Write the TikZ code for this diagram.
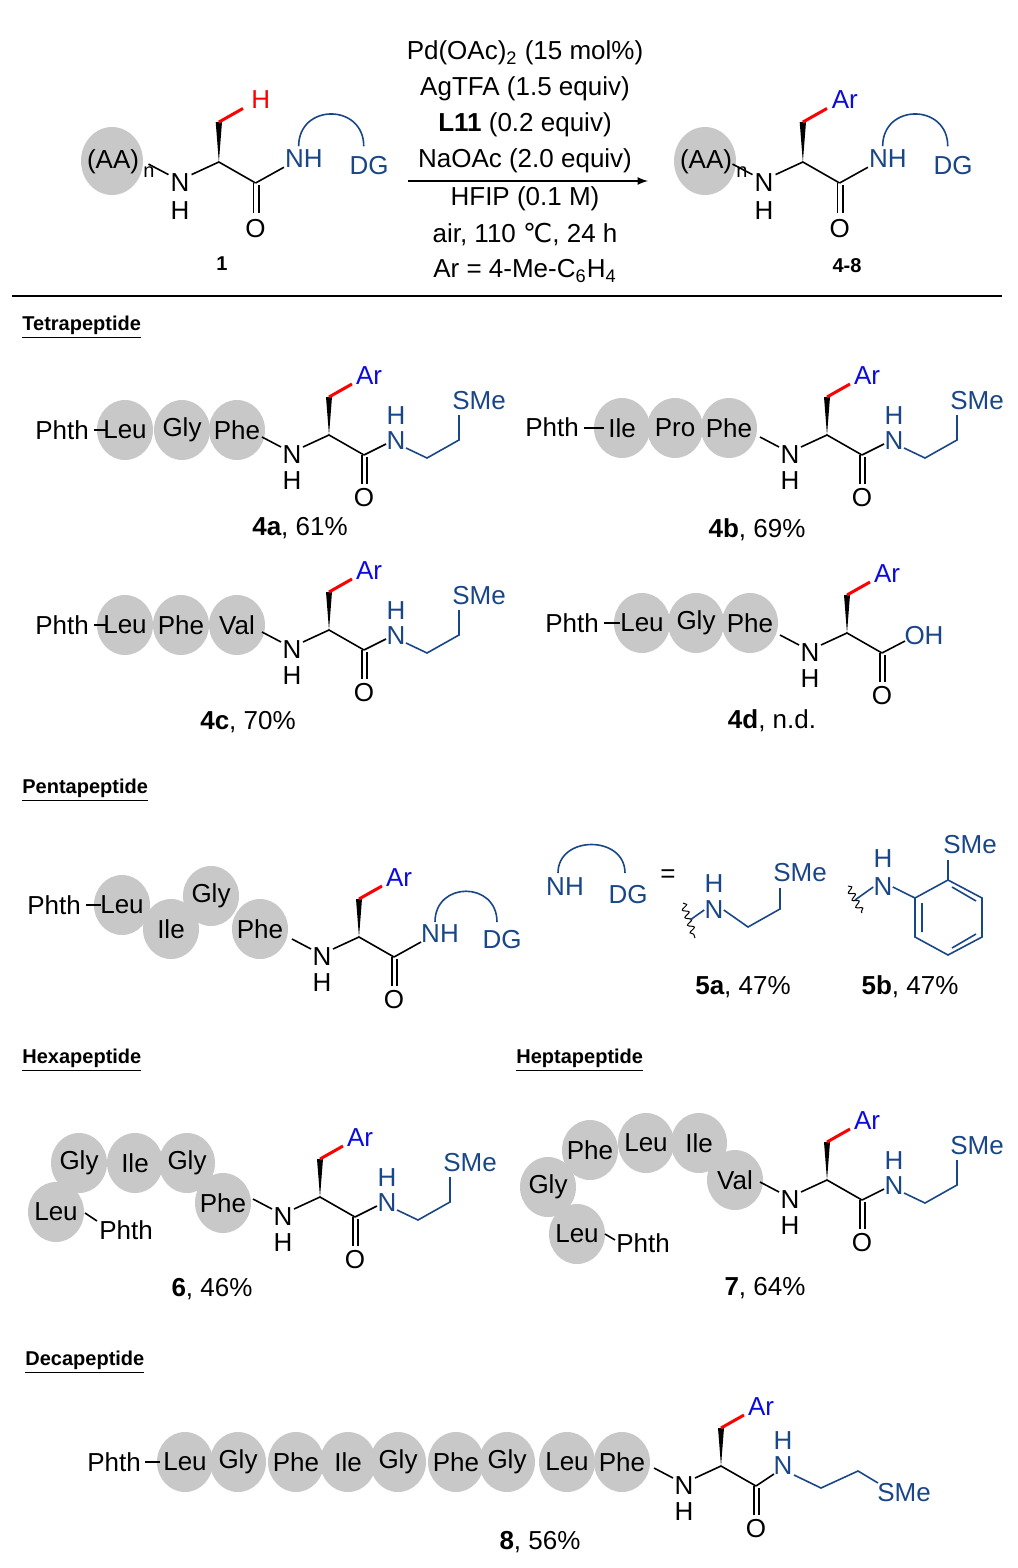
\documentclass[tikz,border=0pt]{standalone}
\usepackage{fontspec}
\setmainfont{Liberation Sans}
\newfontfamily\symfont{DejaVu Sans}
\usetikzlibrary{shapes.geometric,decorations.pathmorphing}
\definecolor{aagray}{RGB}{200,200,200}
\definecolor{dgblue}{RGB}{25,70,135}
\definecolor{arblue}{RGB}{10,10,225}
\tikzset{
  aa/.style={ellipse,fill=aagray,minimum width=28pt,minimum height=30pt,inner sep=0pt},
  atom/.style={inner sep=0pt},
  dg/.style={atom,text=dgblue},
  bond/.style={line width=0.8pt},
  dgbond/.style={line width=0.8pt,draw=dgblue},
  cpd/.style={inner sep=0pt},
  head/.style={anchor=west,inner sep=0pt,font=\bfseries}
}
% amino acid core: x, y of the N, scale, label on the side chain, tail
\newcommand\backbone[5]{%
  \begin{scope}[shift={(#1,#2)},scale=#3]
    \draw[bond] (-30,-18) -- (-11,-8);
    \node[atom] at (0,0) {N};
    \node[atom] at (0,26) {H};
    \draw[bond] (11,-8) -- (37,-20) -- (72,0);
    \fill (37,-20) -- (34,-58) -- (40,-58) -- cycle;
    \draw[red,line width=1.5pt] (37,-58) -- (60,-71);
    \node[atom] at (77,-79) {#4};
    \draw[bond] (70,0) -- (70,29) (75,2) -- (75,29);
    \node[atom] at (72,43) {O};
    #5
  \end{scope}}
\newcommand\amidetail{%
  \draw[bond] (72,0) -- (94,-11);
  \node[dg] at (104,-14) {N};
  \node[dg] at (104,-39) {H};
  \draw[dgbond] (114,-7) -- (135,3) -- (167,-15) -- (167,-40);
  \node[dg] at (187,-54) {SMe};}
\newcommand\dgtail{%
  \draw[bond] (72,0) -- (99,-15);
  \node[dg] at (118,-23) {NH};
  \node[dg] at (180,-17) {DG};
  \draw[dgbond] (113,-35) .. controls (113,-76) and (175,-76) .. (175,-35);}
\newcommand\ohtail{%
  \draw[bond] (72,0) -- (95,-12);
  \node[dg] at (114,-17) {OH};}
\newcommand\smedowntail{%
  \draw[bond] (72,0) -- (90,-12);
  \node[dg] at (99,-20) {N};
  \node[dg] at (99,-45) {H};
  \draw[dgbond] (110,-11) -- (137,2) -- (174,-15) -- (194,-3);
  \node[dg] at (220,7) {SMe};}
\begin{document}
\begin{tikzpicture}[x=0.5pt,y=-0.5pt,font=\fontsize{13}{15}\selectfont]
  \useasboundingbox (0,0) rectangle (1017,1568);
  % scheme
  \node[ellipse,fill=aagray,minimum width=31pt,minimum height=34pt] (aa1) at (112,161) {};
  \node[atom] at (113,162) {(AA)};
  \node[atom,font=\fontsize{10}{12}\selectfont] at (149,172) {n};
  \backbone{180}{183}{1.05}{\color{red}H}{\dgtail}
  \node[ellipse,fill=aagray,minimum width=31pt,minimum height=34pt] (aa2) at (705,161) {};
  \node[atom] at (706,162) {(AA)};
  \node[atom,font=\fontsize{10}{12}\selectfont] at (742,172) {n};
  \backbone{764}{183}{1.05}{\color{arblue}Ar}{\dgtail}
  \node[cpd,font=\bfseries] (c1) at (222,264) {1};
  \node[cpd,font=\bfseries] (c48) at (847,266) {4-8};
  \coordinate (arA) at (408,181);
  \coordinate (arB) at (648,181);
  \draw[bond,-latex] (arA) -- (arB);
  \foreach \t [count=\i] in {Pd(OAc)\textsubscript{2} (15 mol\%),AgTFA (1.5 equiv),\textbf{L11} (0.2 equiv),NaOAc (2.0 equiv)}
    \node[cpd] at (525,{17+36*\i}) {\t};
  \foreach \t [count=\i] in {HFIP (0.1 M),{air, 110 {\symfont ℃}, 24 h},Ar = 4-Me-C\textsubscript{6}H\textsubscript{4}}
    \node[cpd] at (525,{163+36*\i}) {\t};
  \draw[line width=0.8pt] (12,296) -- (1002,296);
  % Tetrapeptide
  \node[head] at (22,327) {\underline{Tetrapeptide}};
  \node[cpd] (ph4a) at (62,430) {Phth};
  \foreach \n/\x in {Leu/125,Gly/182,Phe/237} \node[aa] (a4a\n) at (\x,430) {};
  \foreach \n in {Leu,Gly,Phe} \node[atom] at (a4a\n) {\n};
  \draw[bond] (94,430) -- (107,430);
  \backbone{292}{455}{1}{\color{arblue}Ar}{\amidetail}
  \node[cpd] at (300,528) {\textbf{4a}, 61\%};
  \node[cpd] (ph4b) at (552,427) {Phth};
  \foreach \n/\x in {Ile/622,Pro/675,Phe/729} \node[aa] (a4b\n) at (\x,428) {};
  \foreach \n in {Ile,Pro,Phe} \node[atom] at (a4b\n) {\n};
  \draw[bond] (584,428) -- (604,428);
  \backbone{790}{455}{1}{\color{arblue}Ar}{\amidetail}
  \node[cpd] at (757,530) {\textbf{4b}, 69\%};
  \node[cpd] (ph4c) at (62,625) {Phth};
  \foreach \n/\x in {Leu/125,Phe/181,Val/237} \node[aa] (a4c\n) at (\x,625) {};
  \foreach \n in {Leu,Phe,Val} \node[atom] at (a4c\n) {\n};
  \draw[bond] (94,625) -- (107,625);
  \backbone{292}{650}{1}{\color{arblue}Ar}{\amidetail}
  \node[cpd] at (248,722) {\textbf{4c}, 70\%};
  \node[cpd] (ph4d) at (572,623) {Phth};
  \foreach \n/\x in {Leu/642,Gly/696,Phe/750} \node[aa] (a4d\n) at (\x,623) {};
  \foreach \n in {Leu,Gly,Phe} \node[atom] at (a4d\n) {\n};
  \draw[bond] (604,623) -- (620,623);
  \backbone{810}{653}{1}{\color{arblue}Ar}{\ohtail}
  \node[cpd] at (772,721) {\textbf{4d}, n.d.};
  % Pentapeptide
  \node[head] at (22,790) {\underline{Pentapeptide}};
  \node[cpd] (ph5) at (54,905) {Phth};
  \node[aa] (a5Ile) at (171,929) {};
  \node[aa] (a5Gly) at (211,896) {};
  \node[aa] (a5Phe) at (260,929) {};
  \node[aa] (a5Leu) at (122,905) {};
  \foreach \n in {Leu,Ile,Gly,Phe} \node[atom] at (a5\n) {\n};
  \draw[bond] (86,905) -- (101,905);
  \backbone{322}{957}{1}{\color{arblue}Ar}{\dgtail}
  % directing groups
  \node[dg] (lgNH) at (565,887) {NH};
  \node[dg] (lgDG) at (628,895) {DG};
  \draw[dgbond] (558,873) .. controls (558,835) and (625,835) .. (625,873);
  \node[cpd] (eq) at (668,876) {=};
  \node[dg] (n5a) at (714,910) {N};
  \node[dg] at (714,884) {H};
  \draw[decorate,decoration={snake,amplitude=1.5pt,segment length=4pt},line width=0.5pt] (683,903) -- (695,938);
  \draw[dgbond] (690,920) -- (n5a.west);
  \draw[dgbond] (n5a.east) -- (748,927) -- (780,909) -- (780,888);
  \node[dg] at (800,873) {SMe};
  \node[dg] (n5b) at (883,887) {N};
  \node[dg] at (883,859) {H};
  \draw[decorate,decoration={snake,amplitude=1.5pt,segment length=4pt},line width=0.5pt] (848,886) -- (862,913);
  \draw[dgbond] (855,900) -- (n5b.west);
  \draw[dgbond] (n5b.east) -- (915,898);
  \draw[dgbond] (915,898) -- (948,880) -- (982,898) -- (982,937) -- (948,955) -- (915,937) -- cycle;
  \draw[dgbond] (922,903) -- (922,932) (952,948) -- (976,934) (952,887) -- (976,901);
  \draw[dgbond] (948,880) -- (948,860);
  \node[dg] at (970,845) {SMe};
  \node[cpd] at (743,987) {\textbf{5a}, 47\%};
  \node[cpd] at (910,987) {\textbf{5b}, 47\%};
  % Hexapeptide
  \node[head] at (22,1060) {\underline{Hexapeptide}};
  \node[aa] (a6Gly) at (79,1163) {};
  \node[aa] (a6Ile) at (135,1163) {};
  \node[aa] (a6Glyb) at (187,1163) {};
  \node[aa] (a6Phe) at (223,1203) {};
  \node[aa] (a6Leu) at (56,1212) {};
  \foreach \p/\n in {a6Gly/Gly,a6Ile/Ile,a6Glyb/Gly,a6Phe/Phe,a6Leu/Leu} \node[atom] at (\p) {\n};
  \node[cpd] (ph6) at (126,1230) {Phth};
  \draw[bond] (85,1213) -- (97,1221);
  \backbone{283}{1217}{1}{\color{arblue}Ar}{\amidetail}
  \node[cpd] at (212,1289) {\textbf{6}, 46\%};
  % Heptapeptide
  \node[head] at (516,1060) {\underline{Heptapeptide}};
  \node[aa] (a7Phe) at (590,1150) {};
  \node[aa] (a7Leub) at (646,1143) {};
  \node[aa] (a7Ile) at (699,1143) {};
  \node[aa] (a7Val) at (735,1180) {};
  \node[aa] (a7Gly) at (548,1187) {};
  \node[aa] (a7Leu) at (577,1234) {};
  \foreach \p/\n in {a7Phe/Phe,a7Leub/Leu,a7Ile/Ile,a7Val/Val,a7Gly/Gly,a7Leu/Leu} \node[atom] at (\p) {\n};
  \node[cpd] (ph7) at (643,1243) {Phth};
  \draw[bond] (605,1234) -- (615,1240);
  \backbone{790}{1200}{1}{\color{arblue}Ar}{\amidetail}
  \node[cpd] at (765,1288) {\textbf{7}, 64\%};
  % Decapeptide
  \node[head] at (25,1362) {\underline{Decapeptide}};
  \node[cpd] (ph8) at (114,1462) {Phth};
  \foreach \n/\x [count=\i] in {Leu/185,Gly/238,Phe/296,Ile/348,Gly/398,Phe/456,Gly/507,Leu/567,Phe/622}
    \node[aa] (a8\i) at (\x,1462) {};
  \foreach \n [count=\i] in {Leu,Gly,Phe,Ile,Gly,Phe,Gly,Leu,Phe}
    \node[atom] at (a8\i) {\n};
  \draw[bond] (145,1462) -- (160,1462);
  \backbone{684}{1486}{1}{\color{arblue}Ar}{\smedowntail}
  \node[cpd] at (540,1542) {\textbf{8}, 56\%};
\end{tikzpicture}
\end{document}
